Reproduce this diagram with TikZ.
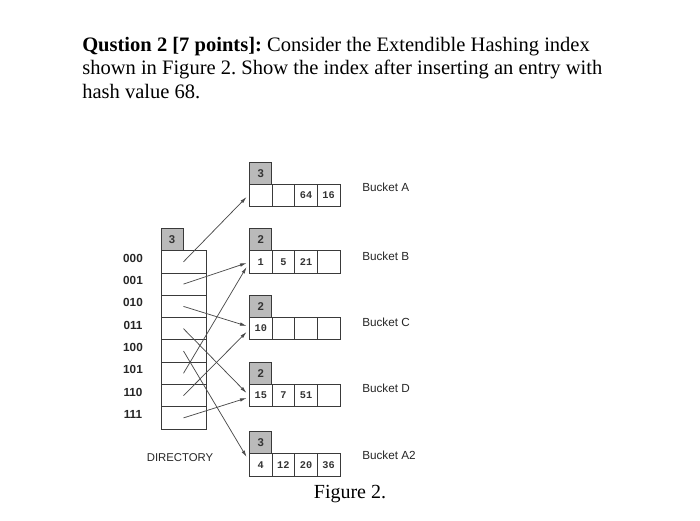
\documentclass[tikz,border=0pt]{standalone}
\usepackage{fontspec}
\setmainfont{Liberation Serif}
\setsansfont{Liberation Sans}
\setmonofont{Liberation Mono}
\usetikzlibrary{arrows.meta}
\definecolor{boxline}{HTML}{3A3A3A}
\definecolor{depthgray}{HTML}{BABABA}
\definecolor{ptrgray}{HTML}{4A4A4A}
\frenchspacing

\begin{document}
\begin{tikzpicture}[x=0.75pt,y=-0.75pt]
\tikzstyle{every node}+=[inner sep=0pt]
\tikzstyle{cell}=[draw=boxline,line width=0.6pt,minimum width=16.95pt,minimum height=16.7pt,font=\ttfamily\bfseries\fontsize{7.7}{8}\selectfont,text=black!80]
\tikzstyle{depth}=[cell,fill=depthgray,minimum width=16.5pt,font=\sffamily\bfseries\fontsize{8.5}{9}\selectfont]
\tikzstyle{dirrow}=[draw=boxline,line width=0.6pt,minimum width=33.75pt,minimum height=16.7pt]
\tikzstyle{bits}=[font=\sffamily\bfseries\fontsize{8.8}{10}\selectfont,text=black!85]
\tikzstyle{blabel}=[anchor=west,font=\sffamily\fontsize{8.8}{10}\selectfont,text=black!85]
\tikzstyle{ptr}=[draw=ptrgray,line width=0.55pt,-{Latex[length=5pt,width=2.6pt]}]
\useasboundingbox (0,0) rectangle (700,521);
% question
\node (question) [anchor=north west,align=left,font=\fontsize{15.4}{17.6}\selectfont] at (82,37)
 {\textbf{Qustion 2 [7 points]:} Consider the Extendible Hashing index\\
 shown in Figure 2. Show the index after inserting an entry with\\
 hash value 68.};
% directory
\node (gdepth) [depth] at (172,239.5) {3};
\foreach \b [count=\i from 0] in {000,001,010,011,100,101,110,111} {
 \node (d\b) [dirrow] at (183.5,261.8+22.3*\i) {};
 \node (l\b) [bits] at (133,258.3+22.3*\i) {\b};
}
\node (dirlabel) [font=\sffamily\fontsize{8.5}{10}\selectfont,text=black!85] at (180,458) {DIRECTORY};
% bucket A
\node (adepth) [depth] at (260.8,173.2) {3};
\node (a1) [cell] at (260.8,195.5) {};
\node (a2) [cell] at (283.4,195.5) {};
\node (a3) [cell] at (306,195.5) {64};
\node (a4) [cell] at (328.6,195.5) {16};
\node (alabel) [blabel] at (362,187) {Bucket A};
% bucket B
\node (bdepth) [depth] at (260.8,239.7) {2};
\node (b1) [cell] at (260.8,262) {1};
\node (b2) [cell] at (283.4,262) {5};
\node (b3) [cell] at (306,262) {21};
\node (b4) [cell] at (328.6,262) {};
\node (blabel) [blabel] at (362,256) {Bucket B};
% bucket C
\node (cdepth) [depth] at (260.8,306.2) {2};
\node (c1) [cell] at (260.8,328.5) {10};
\node (c2) [cell] at (283.4,328.5) {};
\node (c3) [cell] at (306,328.5) {};
\node (c4) [cell] at (328.6,328.5) {};
\node (clabel) [blabel] at (362,322) {Bucket C};
% bucket D
\node (ddepth) [depth] at (260.8,373.2) {2};
\node (e1) [cell] at (260.8,395.5) {15};
\node (e2) [cell] at (283.4,395.5) {7};
\node (e3) [cell] at (306,395.5) {51};
\node (e4) [cell] at (328.6,395.5) {};
\node (dlabel) [blabel] at (362,388) {Bucket D};
% bucket A2
\node (fdepth) [depth] at (260.8,442.7) {3};
\node (f1) [cell] at (260.8,465) {4};
\node (f2) [cell] at (283.4,465) {12};
\node (f3) [cell] at (306,465) {20};
\node (f4) [cell] at (328.6,465) {36};
\node (flabel) [blabel] at (362,455) {Bucket A2};
% pointers
\draw [ptr] (d000.center) -- ([shift={(-2.5,1.5)}]a1.west);
\draw [ptr] (d001.center) -- ([shift={(-2.5,1)}]b1.west);
\draw [ptr] (d010.center) -- ([shift={(-2.5,-2.5)}]c1.west);
\draw [ptr] (d011.center) -- ([shift={(-2.5,-2.5)}]e1.west);
\draw [ptr] (d100.center) -- ([shift={(-2.5,-8)}]f1.west);
\draw [ptr] (d101.center) -- ([shift={(-2.5,5)}]b1.west);
\draw [ptr] (d110.center) -- ([shift={(-2.5,3.5)}]c1.west);
\draw [ptr] (d111.center) -- ([shift={(-2.5,2.5)}]e1.west);
\node (caption) [font=\fontsize{15}{18}\selectfont] at (350,494) {Figure 2.};
\end{tikzpicture}
\end{document}
